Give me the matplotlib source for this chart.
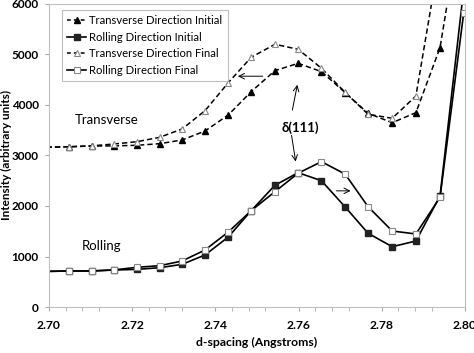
import matplotlib
matplotlib.use('Agg')
import matplotlib.pyplot as plt
from matplotlib.lines import Line2D

plt.rcParams['font.family'] = ['Lato', 'DejaVu Sans']

# d-spacing positions (first one sits just left of the axis, no marker shown)
d_spacing = [2.6994, 2.7049, 2.7104, 2.7157, 2.7211, 2.7266, 2.7320, 2.7375, 2.7431,
             2.7486, 2.7543, 2.7599, 2.7655, 2.7712, 2.7767, 2.7825, 2.7882, 2.7940, 2.7997]

transverse_initial = [3165, 3174, 3188, 3190, 3202, 3234, 3307, 3485, 3802,
                      4264, 4680, 4825, 4660, 4244, 3835, 3650, 3848, 5135, 8000]
transverse_final = [3165, 3172, 3192, 3228, 3273, 3360, 3525, 3887, 4442,
                    4944, 5202, 5103, 4727, 4250, 3816, 3737, 4178, 7000, 9000]
rolling_initial = [705, 713, 713, 733, 745, 778, 845, 1030, 1386,
                   1907, 2410, 2660, 2500, 1980, 1460, 1194, 1307, 2198, 6300]
rolling_final = [705, 713, 715, 735, 786, 818, 911, 1129, 1485,
                 1907, 2283, 2650, 2878, 2630, 1986, 1505, 1446, 2172, 5830]

x_ticks = [2.70, 2.72, 2.74, 2.76, 2.78, 2.80]
y_ticks = [0, 1000, 2000, 3000, 4000, 5000, 6000]

fig = plt.figure(figsize=(4.74, 3.53), dpi=100)
ax = fig.add_axes([0.1034, 0.1303, 0.8776, 0.8584])

dash = (0, (3.5, 2))
mk = list(range(1, len(d_spacing)))
ax.plot(d_spacing, transverse_initial, color='black', lw=1.1, linestyle=dash,
        marker='^', ms=4.5, mfc='black', mec='black', markevery=mk[:-1])
ax.plot(d_spacing, transverse_final, color='black', lw=1.1, linestyle=dash,
        marker='^', ms=4.5, mfc='white', mec='#888888', mew=0.8, markevery=mk[:-2])
ax.plot(d_spacing, rolling_initial, color='black', lw=1.2,
        marker='s', ms=4.2, mfc='#222222', mec='#222222', markevery=mk[:-1])
ax.plot(d_spacing, rolling_final, color='black', lw=1.2,
        marker='s', ms=4.2, mfc='white', mec='#888888', mew=0.8, markevery=mk)

ax.set_xlim(2.70, 2.80)
ax.set_ylim(0, 6000)
ax.set_xticks(x_ticks)
ax.set_xticklabels([f'{v:.2f}' for v in x_ticks], fontweight='bold')
ax.set_xticks([2.704 + 0.004 * i for i in range(24) if (i + 1) % 5 != 4], minor=True)
ax.set_yticks(y_ticks)
ax.set_yticklabels([str(v) for v in y_ticks], fontweight='bold')
ax.tick_params(axis='x', which='both', direction='out', length=3, color='#aaaaaa',
               labelsize=8.7, pad=6)
ax.tick_params(axis='y', direction='out', length=3, color='#aaaaaa', labelsize=8.5, pad=4.5)
for s in ax.spines.values():
    s.set_color('#c0c0c0')
    s.set_linewidth(0.8)

ax.set_xlabel('d-spacing (Angstroms)', fontsize=8.8, fontweight='bold', labelpad=5)
ax.set_ylabel('Intensity (arbitrary units)', fontsize=8.5, fontweight='bold')
ax.yaxis.set_label_coords(-0.090, 0.5)

ax.text(2.7063, 3700, 'Transverse', fontsize=9.5, va='center', ha='left')
ax.text(2.7079, 1200, 'Rolling', fontsize=9.5, va='center', ha='left')
ax.text(2.7604, 3550, 'δ(111)', fontsize=9.5, fontweight='bold', va='center', ha='center')

arrow = dict(arrowstyle='->', color='black', lw=0.7, shrinkA=0, shrinkB=0)
ax.annotate('', xy=(2.7597, 4400), xytext=(2.7585, 3900), arrowprops=arrow)
ax.annotate('', xy=(2.7593, 2880), xytext=(2.7583, 3400), arrowprops=arrow)
ax.annotate('', xy=(2.7454, 4570), xytext=(2.7514, 4570), arrowprops=arrow)
ax.annotate('', xy=(2.7725, 2300), xytext=(2.7691, 2300), arrowprops=arrow)

handles = [
    Line2D([], [], color='black', lw=1.1, linestyle=(0, (2.5, 2)), marker='^', ms=4.5,
           mfc='black', mec='black'),
    Line2D([], [], color='black', lw=1.2, marker='s', ms=4.2, mfc='#222222', mec='#222222'),
    Line2D([], [], color='black', lw=1.1, linestyle=(0, (2.5, 2)), marker='^', ms=4.5,
           mfc='white', mec='#888888', mew=0.8),
    Line2D([], [], color='black', lw=1.2, marker='s', ms=4.2, mfc='white', mec='#888888',
           mew=0.8),
]
labels = ['Transverse Direction Initial', 'Rolling Direction Initial',
          'Transverse Direction Final', 'Rolling Direction Final']
leg = ax.legend(handles, labels, loc='upper left', bbox_to_anchor=(0.031, 0.98),
                borderaxespad=0, fontsize=8.1, frameon=True, fancybox=False,
                handlelength=1.7, handletextpad=0.3, labelspacing=0.5, borderpad=0.45)
leg.get_frame().set_edgecolor('#b0b0b0')
leg.get_frame().set_linewidth(0.8)

fig.savefig('out.png', dpi=100)
